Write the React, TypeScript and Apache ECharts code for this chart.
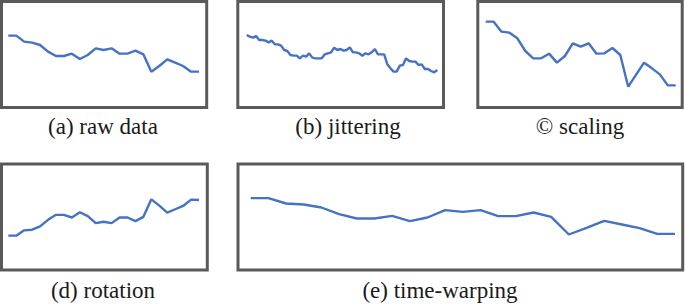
import React, { useEffect, useRef } from "react";
import * as echarts from "echarts";

const rawData = [1.93, 1.93, 1.75, 1.72, 1.65, 1.45, 1.32, 1.32, 1.39, 1.23, 1.35, 1.55, 1.5, 1.55, 1.39, 1.39, 1.48, 1.37, 0.85, 1.02, 1.22, 1.12, 1.02, 0.85, 0.85];
const jitterData = [1.95, 1.9, 1.87, 1.92, 1.8, 1.8, 1.78, 1.73, 1.78, 1.67, 1.67, 1.63, 1.5, 1.47, 1.35, 1.33, 1.33, 1.25, 1.33, 1.3, 1.4, 1.27, 1.25, 1.25, 1.25, 1.37, 1.4, 1.43, 1.57, 1.5, 1.53, 1.48, 1.5, 1.58, 1.43, 1.43, 1.4, 1.33, 1.4, 1.37, 1.43, 1.53, 1.37, 1.37, 1.37, 1.07, 0.95, 0.85, 0.85, 1.03, 1.05, 1.25, 1.17, 1.15, 1.15, 1.05, 1.07, 0.93, 0.93, 0.87, 0.83, 0.9];
const scalingData = [2.35, 2.35, 2.05, 2.02, 1.85, 1.47, 1.25, 1.25, 1.39, 1.12, 1.32, 1.7, 1.6, 1.7, 1.39, 1.4, 1.56, 1.35, 0.4, 0.76, 1.12, 0.95, 0.77, 0.44, 0.44];
const rotationData = [-1.93, -1.93, -1.77, -1.75, -1.65, -1.45, -1.3, -1.3, -1.38, -1.22, -1.34, -1.55, -1.51, -1.55, -1.38, -1.38, -1.49, -1.36, -0.83, -1.02, -1.23, -1.13, -1.03, -0.84, -0.85];
const warpData = [1.93, 1.93, 1.77, 1.74, 1.65, 1.45, 1.32, 1.32, 1.4, 1.24, 1.35, 1.57, 1.52, 1.57, 1.39, 1.39, 1.5, 1.37, 0.84, 1.04, 1.25, 1.14, 1.03, 0.86, 0.86];

const panelLabels = ["(a) raw data", "(b) jittering", "© scaling", "(d) rotation", "(e) time-warping"];
const labelFont = "Liberation Serif, Times New Roman, serif";

const panels = [
  { data: rawData, grid: { left: 1.5, top: 1.5, width: 205.2, height: 106 }, x: [-0.855, 24.97], y: [-0.225, 2.955], label: [103, 127] },
  { data: jitterData, grid: { left: 237.8, top: 1.5, width: 205.7, height: 106 }, x: [-2.85, 62.98], y: [-0.225, 2.955], label: [348, 127] },
  { data: scalingData, grid: { left: 477.8, top: 1.5, width: 204.4, height: 106 }, x: [-1.0, 24.82], y: [-0.225, 2.955], label: [580, 127] },
  { data: rotationData, grid: { left: 1.5, top: 164, width: 205.8, height: 106 }, x: [-0.855, 25.04], y: [-2.97, 0.24], label: [103, 291] },
  { data: warpData, grid: { left: 238, top: 164, width: 444.7, height: 106 }, x: [-0.72, 24.44], y: [-0.225, 2.955], label: [440, 291] },
];

export default function App() {
  const ref = useRef<HTMLDivElement>(null);
  useEffect(() => {
    if (!ref.current) return;
    const chart = echarts.init(ref.current, null, { renderer: "svg" });
    chart.setOption({
      animation: false,
      backgroundColor: "#ffffff",
      grid: panels.map((p) => ({
        ...p.grid,
        show: true,
        borderColor: "#5a5a5a",
        borderWidth: 3,
        backgroundColor: "#ffffff",
        containLabel: false,
      })),
      xAxis: panels.map((p, i) => ({
        type: "value",
        gridIndex: i,
        min: p.x[0],
        max: p.x[1],
        show: false,
      })),
      yAxis: panels.map((p, i) => ({
        type: "value",
        gridIndex: i,
        min: p.y[0],
        max: p.y[1],
        show: false,
      })),
      series: panels.map((p, i) => ({
        type: "line",
        xAxisIndex: i,
        yAxisIndex: i,
        data: p.data.map((v, k) => [k, v]),
        showSymbol: false,
        lineStyle: { color: "#4472c4", width: 2.4 },
        silent: true,
      })),
      title: panels.map((p, i) => ({
        text: panelLabels[i],
        left: p.label[0],
        top: p.label[1] - 12,
        padding: 0,
        textAlign: "center",
        textStyle: {
          fontFamily: labelFont,
          fontSize: 23,
          fontWeight: "normal",
          color: "#1a1a1a",
        },
      })),
    });
    return () => chart.dispose();
  }, []);
  return (
    <div
      ref={ref}
      style={{ position: "absolute", left: 0, top: 0, width: 685, height: 305 }}
    />
  );
}
